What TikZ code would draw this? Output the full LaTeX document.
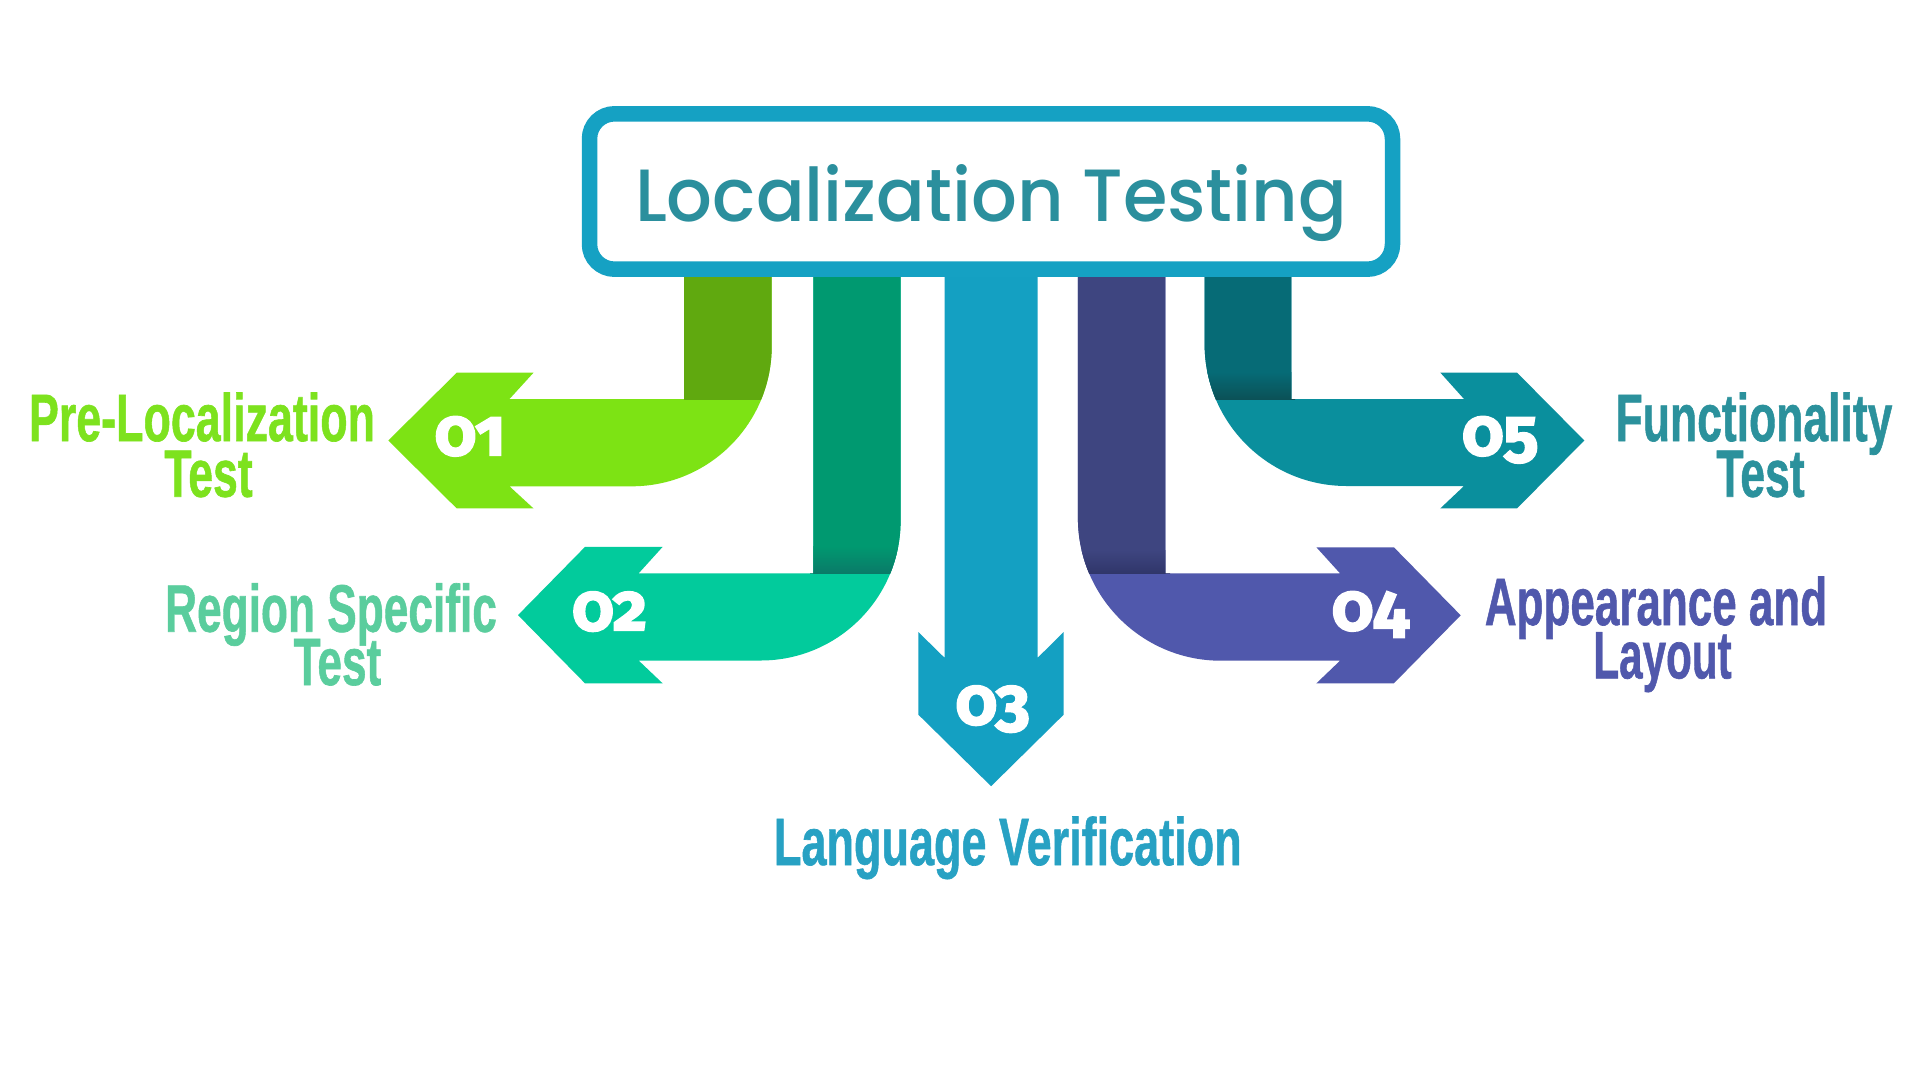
\documentclass[tikz,border=0pt]{standalone}
\usepackage{graphicx}
\usepackage{fontspec}
\IfFontExistsTF{Poppins Medium}{\newfontfamily\titlefont{Poppins Medium}}{\newfontfamily\titlefont{Poppins}[FakeBold=1.5]}
\IfFontExistsTF{Liberation Sans Narrow}{\newfontfamily\labelfont{Liberation Sans Narrow}}{\newfontfamily\labelfont{Liberation Sans}[BoldFeatures={FakeBold=1}]}
\newfontfamily\numfont{Fira Sans}[Numbers=OldStyle,BoldFeatures={FakeBold=3}]
\definecolor{boxblue}{HTML}{15A1C3}
\definecolor{titleteal}{HTML}{2B8F9D}
\definecolor{aAlight}{HTML}{7DE314}
\definecolor{aAdark}{HTML}{60A90F}
\definecolor{aBlight}{HTML}{02CB9C}
\definecolor{aBdark}{HTML}{009970}
\definecolor{aBdeep}{HTML}{0A7A68}
\definecolor{aC}{HTML}{14A0C2}
\definecolor{aDlight}{HTML}{5058AC}
\definecolor{aDdark}{HTML}{3E4580}
\definecolor{aDdeep}{HTML}{30366A}
\definecolor{aElight}{HTML}{0A8F9D}
\definecolor{aEdark}{HTML}{066B76}
\definecolor{aEdeep}{HTML}{0B5157}
\definecolor{lA}{HTML}{7DE21E}
\definecolor{lB}{HTML}{5ACD9D}
\definecolor{lC}{HTML}{27A1C3}
\definecolor{lD}{HTML}{5058AC}
\definecolor{lE}{HTML}{2B919C}
\newlength\fitlen
\newcommand\fitline[2]{\settowidth\fitlen{#2}\pgfmathsetmacro\fitratio{#1/\fitlen}\scalebox{\fitratio}[1]{#2}}
\newcommand\twolines[3]{\vtop{\baselineskip=#1pt\lineskiplimit=-1000pt\halign{\hfil##\hfil\cr#2\cr\kern13pt#3\cr}}}
\def\pA{(684,270) -- (771.7,270) -- (771.7,346.3) .. controls (771.7,423.6) and (709,486.3) .. (631.7,486.3) -- (509.5,486.3) -- (533.5,508.4) -- (456.7,508.4) -- (388.3,440.5) -- (456.7,372.7) -- (533.5,372.7) -- (509.5,399) -- (684,399) -- cycle}
\def\pB{(813.4,270) -- (900.6,270) -- (900.6,520.5) .. controls (900.6,597.8) and (837.9,660.5) .. (760.6,660.5) -- (638.6,660.5) -- (662.6,683.3) -- (585,683.3) -- (518,615.1) -- (585,546.9) -- (662.6,546.9) -- (638.6,573.4) -- (813.4,573.4) -- cycle}
\def\pC{(944.6,270) -- (1037.6,270) -- (1037.6,657.8) -- (1063.7,632) -- (1063.7,714.6) -- (991.1,786.2) -- (918.3,714.6) -- (918.3,632) -- (944.6,657.8) -- cycle}
\def\pD{(1165.4,270) -- (1077.9,270) -- (1077.9,517.7) .. controls (1077.9,596.7) and (1141.9,660.7) .. (1220.9,660.7) -- (1340,660.7) -- (1316.4,683.3) -- (1393.9,683.3) -- (1460.7,615.3) -- (1393.9,547.3) -- (1316.4,547.3) -- (1340,573.3) -- (1165.4,573.3) -- cycle}
\def\pE{(1291.4,270) -- (1204.6,270) -- (1204.6,344) .. controls (1204.6,422.4) and (1268.2,486) .. (1346.6,486) -- (1464,486) -- (1440.4,508.3) -- (1517.1,508.3) -- (1584.3,440.5) -- (1517.1,372.7) -- (1440.4,372.7) -- (1464,399) -- (1291.4,399) -- cycle}
\tikzset{
  lbl/.style={font=\labelfont\bfseries\fontsize{67}{67}\selectfont, anchor=base, inner sep=0pt},
  num/.style={font=\numfont\bfseries\fontsize{66}{66}\selectfont, text=white, anchor=base, inner sep=0pt},
  titlebox/.style={draw=boxblue, fill=white, line width=15.5, rounded corners=25, minimum width=803, minimum height=155.4, inner sep=0pt},
}
\begin{document}
\begin{tikzpicture}[x=1pt,y=-1pt]
\useasboundingbox (0,0) rectangle (1920,1080);
\fill[white] (0,0) rectangle (1920,1080);
% arrow 1
\fill[aAlight] \pA;
\begin{scope}\clip (684,0) rectangle (800,399); \fill[aAdark] \pA; \end{scope}
% arrow 2
\fill[aBlight] \pB;
\begin{scope}\clip (813.4,0) rectangle (930,573.4); \fill[aBdark] \pB; \end{scope}
\begin{scope}\clip \pB; \shade[top color=aBdark, bottom color=aBdeep] (810,546) rectangle (905,573.4); \end{scope}
% arrow 3
\fill[aC] \pC;
% arrow 4
\fill[aDlight] \pD;
\begin{scope}\clip (1050,0) rectangle (1165.4,573.3); \fill[aDdark] \pD; \end{scope}
\begin{scope}\clip \pD; \shade[top color=aDdark, bottom color=aDdeep] (1070,550) rectangle (1170,573.3); \end{scope}
% arrow 5
\fill[aElight] \pE;
\begin{scope}\clip (1180,0) rectangle (1291.4,399); \fill[aEdark] \pE; \end{scope}
\begin{scope}\clip \pE; \shade[top color=aEdark, bottom color=aEdeep] (1200,372) rectangle (1295,399); \end{scope}
% title box
\node[titlebox] (box) at (991,191.5) {};
\node[font=\titlefont\fontsize{74}{74}\selectfont, text=titleteal, anchor=base, inner sep=0pt] (title) at (991,221) {\fitline{712}{Localization Testing}};
% numbers
\node[num] (n1) at (470,455) {01};
\node[num] (n2) at (609.6,630.2) {02};
\node[num] (n3) at (992.7,724.2) {03};
\node[num] (n4) at (1370.4,630) {04};
\node[num] (n5) at (1500.2,455) {05};
% labels
\node[lbl, text=lA] (t1) at (202,441) {\twolines{55.7}{\fitline{346}{Pre-Localization}}{\fitline{88.4}{Test}}};
\node[lbl, text=lB] (t2) at (331,631.7) {\twolines{53.3}{\fitline{331.7}{Region Specific}}{\fitline{87.6}{Test}}};
\node[lbl, text=lC] (t3) at (1007.8,865) {\fitline{467.7}{Language Verification}};
\node[lbl, text=lD] (t4) at (1656,625) {\twolines{53.3}{\fitline{342.3}{Appearance and}}{\fitline{138.3}{Layout}}};
\node[lbl, text=lE] (t5) at (1754,441) {\twolines{55.7}{\fitline{276.6}{Functionality}}{\fitline{88.3}{Test}}};
\end{tikzpicture}
\end{document}
